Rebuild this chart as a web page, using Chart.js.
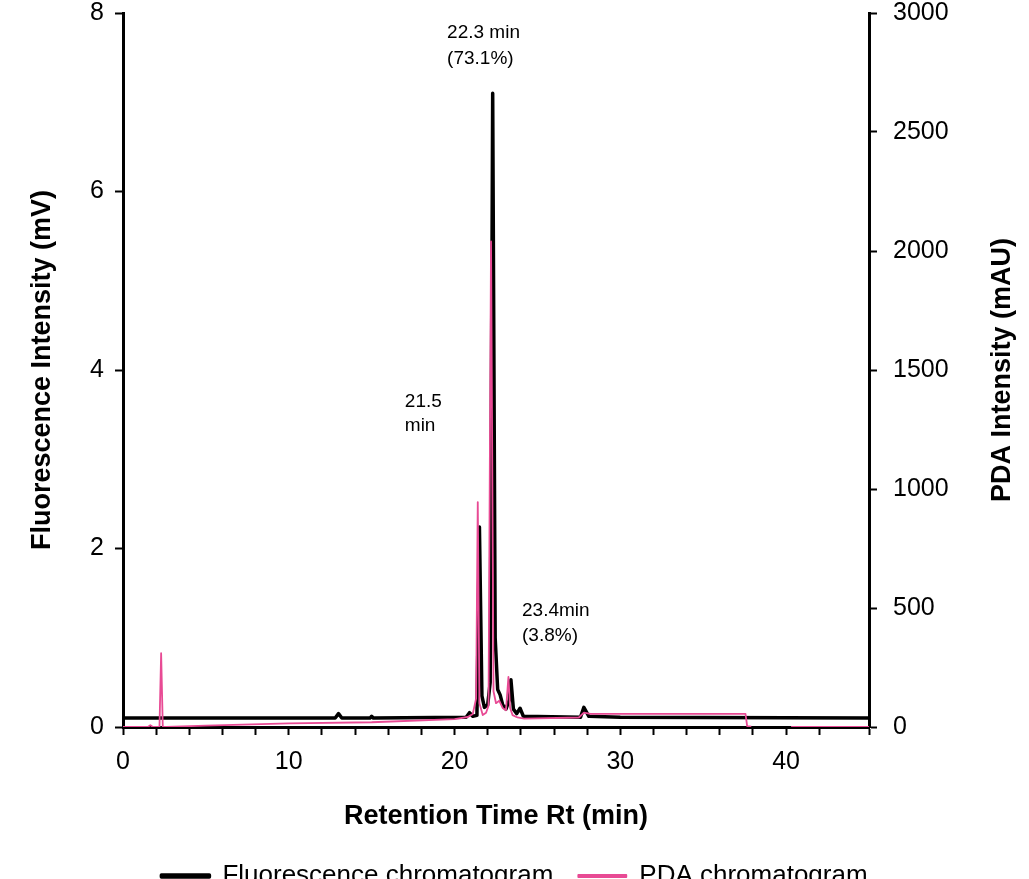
<!DOCTYPE html>
<html>
<head>
<meta charset="utf-8">
<script src="https://cdn.jsdelivr.net/npm/chart.js@4.4.0/dist/chart.umd.min.js"></script>
<style>
  html, body { margin: 0; padding: 0; background: #fff; overflow: hidden; }
  #wrap { width: 1029px; height: 879px; overflow: hidden; }
</style>
</head>
<body>
<div id="wrap"><canvas id="chrom" width="1029" height="899"></canvas></div>
<script>
// fluorescence trace (mV) vs retention time (min)
const fluoTime   = [0, 5, 10, 12.8, 13.0, 13.2, 14.9, 15.0, 15.1, 20.7, 20.9, 21.1, 21.35, 21.5, 21.65, 21.8, 22.0, 22.15, 22.3, 22.45, 22.6, 22.75, 22.9, 23.1, 23.3, 23.4, 23.55, 23.75, 23.95, 24.15, 27.6, 27.8, 28.1, 30, 45];
const fluoSignal = [0.10, 0.10, 0.10, 0.10, 0.15, 0.10, 0.10, 0.12, 0.10, 0.11, 0.16, 0.12, 0.13, 2.24, 0.35, 0.22, 0.25, 0.5, 7.10, 1.0, 0.42, 0.36, 0.25, 0.20, 0.30, 0.53, 0.20, 0.15, 0.21, 0.12, 0.11, 0.22, 0.12, 0.11, 0.10];

// PDA trace (mAU)
const pdaTime   = [0, 1.5, 1.65, 1.8, 2.2, 2.3, 2.4, 2.6, 5, 10, 15, 20, 20.8, 21.1, 21.3, 21.4, 21.5, 21.7, 21.9, 22.05, 22.2, 22.35, 22.5, 22.7, 22.9, 23.1, 23.25, 23.35, 23.5, 23.8, 24.2, 27.5, 27.8, 28.2, 37.55, 37.65, 37.9, 38.0, 40.3, 45];
const pdaSignal = [0, 0, 8, 0, 0, 310, 0, 0, 6, 15, 20, 33, 42, 55, 120, 945, 100, 50, 60, 90, 2040, 150, 100, 110, 80, 70, 210, 80, 50, 40, 35, 40, 60, 55, 55, 4, 2, null, 0, 0];

const xTicksLabelled = [0, 10, 20, 30, 40];

// peak labels: [text, time, fluorescence level]
const noteText = ['22.3 min', '(73.1%)', '21.5', 'min', '23.4min', '(3.8%)'];
const noteTime = [19.55, 19.55, 17.0, 17.0, 24.07, 24.07];
const noteLevel = [7.78, 7.49, 3.64, 3.38, 1.30, 1.02];

const pink = '#e84a94';
const font = '"Liberation Sans", Arial, sans-serif';

const notes = {
    id: 'notes',
    afterDatasetsDraw(chart) {
        const ctx = chart.ctx;
        const x = chart.scales.x, y = chart.scales.y;
        ctx.save();
        ctx.fillStyle = '#000';
        ctx.font = '19px ' + font;
        ctx.textAlign = 'left';
        ctx.textBaseline = 'middle';
        for (let i = 0; i < noteText.length; i++) {
            ctx.fillText(noteText[i], x.getPixelForValue(noteTime[i]), y.getPixelForValue(noteLevel[i]));
        }
        // right axis title reads bottom-to-top like the left one
        const a = chart.chartArea;
        ctx.translate(1003, (a.top + a.bottom) / 2);
        ctx.rotate(-Math.PI / 2);
        ctx.textAlign = 'center';
        ctx.font = 'bold 27px ' + font;
        ctx.fillText('PDA Intensity (mAU)', 0, 0);
        ctx.restore();
    }
};

const noPad = s => { s.paddingTop = 0; s.paddingBottom = 0; };

new Chart(document.getElementById('chrom'), {
    type: 'line',
    data: {
        datasets: [{
            label: 'Fluorescence chromatogram',
            data: fluoTime.map((t, i) => ({ x: t, y: fluoSignal[i] })),
            borderColor: '#000',
            backgroundColor: '#000',
            borderWidth: 3.5,
            borderJoinStyle: 'round',
            pointRadius: 0,
            tension: 0,
            yAxisID: 'y',
            order: 1
        }, {
            label: 'PDA chromatogram',
            data: pdaTime.map((t, i) => ({ x: t, y: pdaSignal[i] })),
            borderColor: pink,
            backgroundColor: pink,
            borderWidth: 1.8,
            borderJoinStyle: 'round',
            pointRadius: 0,
            tension: 0,
            spanGaps: false,
            yAxisID: 'y2',
            order: 0
        }]
    },
    options: {
        responsive: false,
        animation: false,
        layout: { padding: { top: 13, left: 0, right: 0, bottom: 0 } },
        plugins: {
            tooltip: { enabled: false },
            legend: {
                position: 'bottom',
                labels: {
                    sort: (a, b) => a.datasetIndex - b.datasetIndex,
                    boxWidth: 48,
                    boxHeight: 2,
                    padding: 25,
                    color: '#000',
                    font: { family: font, size: 26 }
                }
            }
        },
        scales: {
            x: {
                type: 'linear',
                min: 0, max: 45,
                afterFit: s => { s.height = 111; },
                border: { display: true, color: '#000', width: 3 },
                grid: { drawOnChartArea: false, drawTicks: true, tickLength: 8, tickColor: '#000', tickWidth: 2 },
                ticks: {
                    stepSize: 2, autoSkip: false, maxRotation: 0, padding: 12,
                    color: '#000', font: { family: font, size: 25 },
                    callback: v => xTicksLabelled.includes(v) ? String(v) : ''
                },
                title: {
                    display: true, text: 'Retention Time Rt (min)', color: '#000',
                    font: { family: font, size: 27, weight: 'bold', lineHeight: 1.2 },
                    padding: { top: 0, bottom: 5 }
                }
            },
            y: {
                position: 'left',
                min: 0, max: 8,
                afterFit: s => { s.width = 123; noPad(s); },
                border: { display: true, color: '#000', width: 3 },
                grid: { drawOnChartArea: false, drawTicks: true, tickLength: 8, tickColor: '#000', tickWidth: 2 },
                ticks: { stepSize: 2, padding: 11, color: '#000', font: { family: font, size: 25 } },
                title: {
                    display: true, text: 'Fluorescence Intensity (mV)', color: '#000',
                    font: { family: font, size: 27, weight: 'bold', lineHeight: 1.2 },
                    padding: { top: 26, bottom: 0 }
                }
            },
            y2: {
                position: 'right',
                min: 0, max: 3000,
                afterFit: s => { s.width = 160; noPad(s); },
                border: { display: true, color: '#000', width: 3 },
                grid: { drawOnChartArea: false, drawTicks: true, tickLength: 8, tickColor: '#000', tickWidth: 2 },
                ticks: { stepSize: 500, padding: 16, color: '#000', font: { family: font, size: 25 }, callback: v => String(v) }
            }
        }
    },
    plugins: [notes]
});
</script>
</body>
</html>
